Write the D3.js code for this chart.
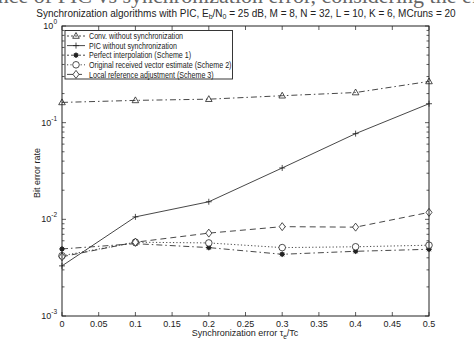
<!DOCTYPE html>
<html><head><meta charset="utf-8">
<script src="https://cdn.jsdelivr.net/npm/d3@7"></script>
<style>body{margin:0;background:#fff}svg{display:block}text{font-family:"Liberation Sans",Arial,sans-serif;fill:#222}</style>
</head><body>
<svg id="c" width="474" height="356"></svg>
<script>
const xValues = [0, 0.1, 0.2, 0.3, 0.4, 0.5];
const convNoSync = [0.162, 0.170, 0.175, 0.190, 0.205, 0.267];
const picNoSync = [0.0033, 0.0106, 0.0152, 0.034, 0.077, 0.157];
const perfectInterp = [0.00494, 0.0056, 0.0051, 0.00435, 0.00467, 0.0049];
const origVector = [0.0042, 0.0058, 0.0057, 0.0051, 0.0052, 0.0054];
const localRef = [0.0041, 0.0058, 0.0072, 0.0084, 0.0083, 0.0118];
const xTicks = [0, 0.05, 0.1, 0.15, 0.2, 0.25, 0.3, 0.35, 0.4, 0.45, 0.5];
const yDecades = [-3, -2, -1, 0];
const legendLabels = ["Conv.  without synchronization", "PIC without synchronization", "Perfect interpolation (Scheme 1)", "Original received vector estimate (Scheme 2)", "Local reference adjustment (Scheme 3)"];

const series = [
  {vals: convNoSync, dash: "6,3,1.5,3", marker: "tri"},
  {vals: picNoSync, dash: null, marker: "plus"},
  {vals: perfectInterp, dash: "6,3,1.5,3", marker: "star"},
  {vals: origVector, dash: "1.2,2.2", marker: "circle"},
  {vals: localRef, dash: "6,4", marker: "diamond"}
];

const svg = d3.select("#c");
const L = 62, R = 429, T = 26, B = 316;
const x = d3.scaleLinear().domain([0, 0.5]).range([L, R]);
const y = d3.scaleLog().domain([1e-3, 1]).range([B, T]);

// cropped caption text at top (only its lower part is visible)
svg.append("text").attr("x", 237).attr("y", 3).attr("text-anchor", "middle")
  .style("font-family", "'Liberation Serif',serif").style("font-size", "22px").style("fill", "#666")
  .text("ance of PIC vs synchronization error, considering the eff");

svg.append("text").attr("x", 246).attr("y", 17).attr("text-anchor", "middle").style("font-size", "10px")
  .html('Synchronization algorithms with PIC, E<tspan dy="2" font-size="7">b</tspan><tspan dy="-2">/N</tspan><tspan dy="2" font-size="7">0</tspan><tspan dy="-2"> = 25 dB, M = 8, N = 32, L = 10, K = 6, MCruns = 20</tspan>');

// ticks
const g = svg.append("g").attr("stroke", "#333").attr("stroke-width", 0.8);
xTicks.forEach(t => {
  g.append("line").attr("x1", x(t)).attr("x2", x(t)).attr("y1", B).attr("y2", B - 4);
  g.append("line").attr("x1", x(t)).attr("x2", x(t)).attr("y1", T).attr("y2", T + 4);
});
yDecades.forEach(d => {
  for (let m = 1; m <= 9; m++) {
    const v = m * Math.pow(10, d);
    if (v > 1 || (d === 0 && m > 1)) continue;
    const len = m === 1 ? 4 : 2.5;
    g.append("line").attr("x1", L).attr("x2", L + len).attr("y1", y(v)).attr("y2", y(v));
    g.append("line").attr("x1", R).attr("x2", R - len).attr("y1", y(v)).attr("y2", y(v));
  }
});

// axes labels
xTicks.forEach(t => {
  svg.append("text").attr("x", x(t)).attr("y", 327).attr("text-anchor", "middle").style("font-size", "9px").text(d3.format("")(t));
});
yDecades.forEach(d => {
  const tx = svg.append("text").attr("x", L - 5).attr("y", y(Math.pow(10, d)) + 3).attr("text-anchor", "end").style("font-size", "9px");
  tx.append("tspan").text("10");
  tx.append("tspan").attr("dy", -5).style("font-size", "6.5px").text(d);
});
svg.append("text").attr("x", 245).attr("y", 336).attr("text-anchor", "middle").style("font-size", "9px")
  .html('Synchronization error τ<tspan dy="3" font-size="6.5">e</tspan><tspan dy="-3">/Tc</tspan>');
svg.append("text").attr("transform", "translate(40,173) rotate(-90)").attr("text-anchor", "middle").style("font-size", "9px").text("Bit error rate");

// markers
function drawMarker(sel, type, cx, cy) {
  const s = sel.append("g").attr("transform", `translate(${cx},${cy})`).attr("fill", "none").attr("stroke", "#222").attr("stroke-width", 0.8);
  if (type === "tri") s.append("path").attr("d", "M0,-3.5L3.3,2.3L-3.3,2.3Z");
  else if (type === "plus") s.append("path").attr("d", "M-3,0H3M0,-3V3");
  else if (type === "star") { s.append("circle").attr("r", 2).attr("fill", "#222"); s.append("path").attr("d", "M-2.8,0H2.8M0,-2.8V2.8M-2,-2L2,2M-2,2L2,-2"); }
  else if (type === "circle") s.append("circle").attr("r", 3.3).attr("fill", "#fff");
  else if (type === "diamond") s.append("path").attr("d", "M0,-4L3,0L0,4L-3,0Z").attr("fill", "#fff");
}

const line = d3.line().x((d, i) => x(xValues[i])).y(d => y(d));
const plot = svg.append("g");
series.forEach(s => {
  plot.append("path").datum(s.vals).attr("d", line).attr("fill", "none").attr("stroke", "#333")
    .attr("stroke-width", 0.9).attr("stroke-dasharray", s.dash);
});
series.forEach(s => {
  s.vals.forEach((v, i) => drawMarker(plot, s.marker, x(xValues[i]), y(v)));
});

// frame
svg.append("rect").attr("x", L).attr("y", T).attr("width", R - L).attr("height", B - T)
  .attr("fill", "none").attr("stroke", "#222").attr("stroke-width", 1);

// legend
const lg = svg.append("g");
lg.append("rect").attr("x", 65).attr("y", 30.5).attr("width", 167.5).attr("height", 48.5)
  .attr("fill", "#fff").attr("stroke", "#222").attr("stroke-width", 0.9);
legendLabels.forEach((lab, i) => {
  const yy = 36 + i * 9.6;
  const s = series[i];
  lg.append("line").attr("x1", 67).attr("x2", 85).attr("y1", yy).attr("y2", yy).attr("stroke", "#333")
    .attr("stroke-width", 0.9).attr("stroke-dasharray", s.dash ? (s.marker === "diamond" ? "6,3" : s.marker === "circle" ? "1.2,2.2" : "2,2") : null);
  drawMarker(lg, s.marker, 76, yy);
  lg.append("text").attr("transform", `translate(89,${yy + 3.2}) scale(0.81,1)`).style("font-size", "8.8px").text(lab);
});
</script>
</body></html>
